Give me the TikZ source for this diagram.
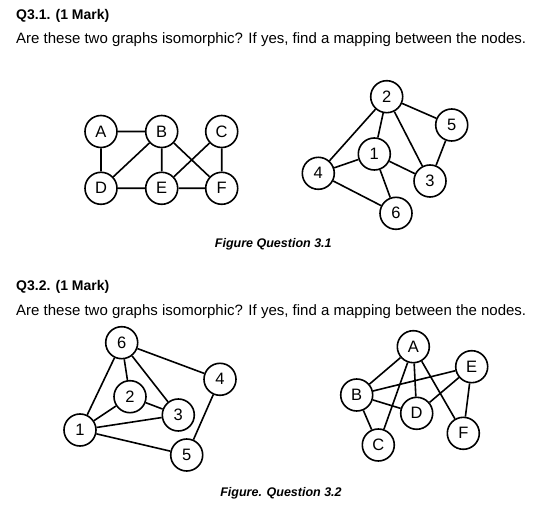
\documentclass[tikz,border=0pt]{standalone}
\usepackage{fontspec}
\setmainfont{Liberation Sans}
\begin{document}
\begin{tikzpicture}[x=1pt,y=-1pt,
  vtx/.style={circle,draw,line width=1.6pt,minimum size=32pt,inner sep=0pt,font=\fontsize{16.5}{18}\selectfont,fill=white},
  edge/.style={line width=1.6pt},
  head/.style={anchor=base west,inner sep=0pt,font=\fontsize{14}{16}\selectfont\bfseries},
  body/.style={anchor=base west,inner sep=0pt,font=\fontsize{15}{17}\selectfont},
  figcap/.style={anchor=base,inner sep=0pt,font=\fontsize{12.5}{14}\selectfont\bfseries\itshape}]
\useasboundingbox (0,0) rectangle (554,518);
\node[head] (h1) at (16,20) {Q3.1. (1 Mark)};
\node[body] (t1) at (16,44) {Are these two graphs isomorphic? If yes, find a mapping between the nodes.};
\node[figcap] (c1) at (273.3,248) {Figure Question 3.1};
\node[head] (h2) at (16,290.5) {Q3.2. (1 Mark)};
\node[body] (t2) at (16,316) {Are these two graphs isomorphic? If yes, find a mapping between the nodes.};
\node[figcap] (c2) at (281,496) {Figure. Question 3.2};
% graph 1
\node[vtx] (a1) at (101,131.5) {A};
\node[vtx] (b1) at (161.7,131.5) {B};
\node[vtx] (cc1) at (221.7,131.5) {C};
\node[vtx] (d1) at (101,188.3) {D};
\node[vtx] (e1) at (161.7,188.3) {E};
\node[vtx] (f1) at (221.7,188.3) {F};
\draw[edge] (a1)--(b1) (a1)--(d1) (b1)--(d1) (b1)--(e1) (b1)--(f1) (cc1)--(e1) (cc1)--(f1) (d1)--(e1) (e1)--(f1);
% graph 2
\node[vtx] (n2) at (386.7,96.7) {2};
\node[vtx] (n5) at (451.7,125) {5};
\node[vtx] (n1) at (374.3,154) {1};
\node[vtx] (n4) at (318.3,173.3) {4};
\node[vtx] (n3) at (430,181) {3};
\node[vtx] (n6) at (396,213.3) {6};
\draw[edge] (n2)--(n4) (n2)--(n1) (n2)--(n3) (n2)--(n5) (n5)--(n3) (n1)--(n4) (n1)--(n3) (n1)--(n6) (n4)--(n6);
% graph 3
\node[vtx] (m6) at (121.7,342.7) {6};
\node[vtx] (m4) at (220,379.3) {4};
\node[vtx] (m2) at (130,396.7) {2};
\node[vtx] (m3) at (178.3,415) {3};
\node[vtx] (m1) at (80,430) {1};
\node[vtx] (m5) at (186.7,455) {5};
\draw[edge] (m6)--(m1) (m6)--(m2) (m6)--(m3) (m6)--(m4) (m4)--(m5) (m2)--(m1) (m2)--(m3) (m1)--(m3) (m1)--(m5);
% graph 4
\node[vtx] (pa) at (413.3,346.7) {A};
\node[vtx] (pe) at (471.7,366.7) {E};
\node[vtx] (pb) at (356.7,395) {B};
\node[vtx] (pd) at (416.7,413.3) {D};
\node[vtx] (pf) at (463.3,433.3) {F};
\node[vtx] (pc) at (378.3,445) {C};
\draw[edge] (pa)--(pb) (pa)--(pc) (pa)--(pd) (pa)--(pf) (pb)--(pe) (pb)--(pd) (pb)--(pc) (pe)--(pd) (pe)--(pf);
\end{tikzpicture}
\end{document}
